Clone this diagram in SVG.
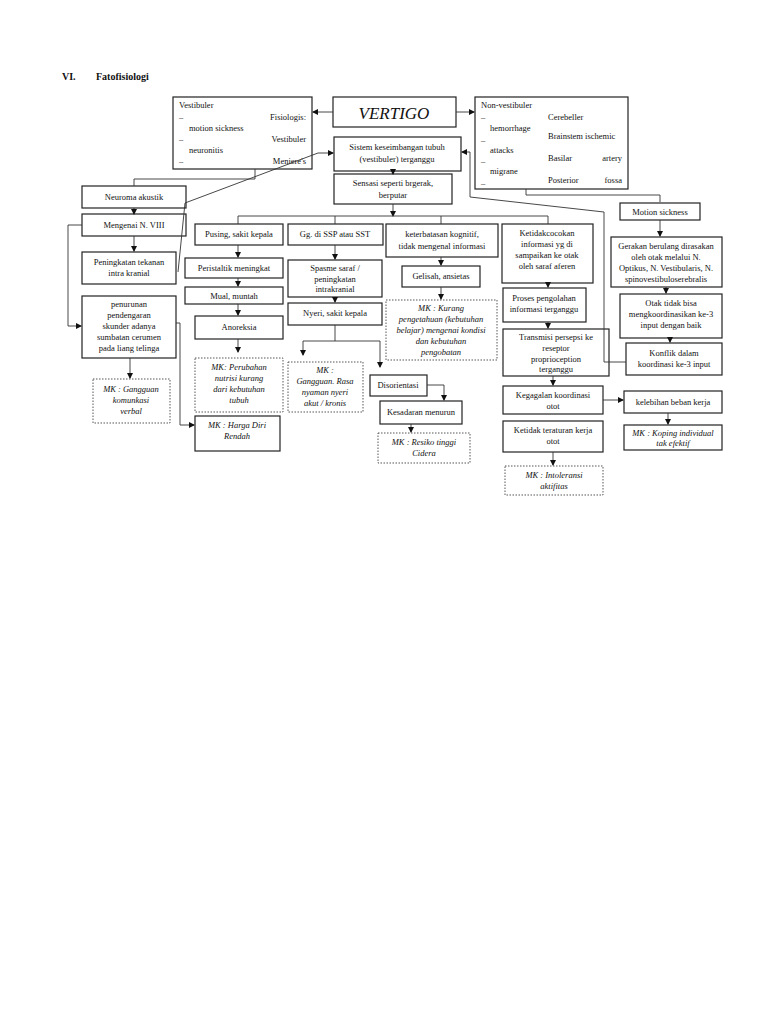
<svg xmlns="http://www.w3.org/2000/svg" width="768" height="1024" viewBox="0 0 768 1024">
<style>
text{font-family:"Liberation Serif","Times New Roman",serif;font-size:8.5px;fill:#111}
.b rect{fill:#fff;stroke:#222;stroke-width:1.2}
.d rect{fill:#fff;stroke:#444;stroke-width:0.9;stroke-dasharray:1.5,1.5}
.d text{font-style:italic}
.c{fill:none;stroke:#333;stroke-width:0.9}
.m{text-anchor:middle}
</style>
<defs><marker id="a" markerWidth="6" markerHeight="6" refX="5" refY="3" orient="auto" markerUnits="userSpaceOnUse"><path d="M0,0L6,3L0,6z" fill="#111"/></marker></defs>
<rect width="768" height="1024" fill="#fff"/>
<text x="62" y="80" style="font-weight:bold;font-size:10px">VI.</text>
<text x="96" y="80" style="font-weight:bold;font-size:10px">Fatofisiologi</text>

<g id="vestibuler" class="b"><rect x="173" y="97" width="139" height="72"/>
<text x="179" y="108">Vestibuler</text><text x="179" y="120">–</text><text x="306" y="120" text-anchor="end">Fisiologis:</text><text x="189" y="131">motion sickness</text><text x="179" y="142">–</text><text x="306" y="142" text-anchor="end">Vestibuler</text><text x="189" y="153">neuronitis</text><text x="179" y="164">–</text><text x="306" y="164" text-anchor="end">Meniere's</text></g>
<g id="vertigo" class="b"><rect x="333" y="97" width="123" height="30"/><text x="394" y="119" class="m" style="font-size:17px;font-style:italic">VERTIGO</text></g>
<g id="nonvest" class="b"><rect x="475" y="97" width="153" height="92"/>
<text x="481" y="108">Non-vestibuler</text><text x="481" y="120">–</text><text x="548" y="120">Cerebeller</text><text x="490" y="131">hemorrhage</text><text x="481" y="143">–</text><text x="548" y="139">Brainstem  ischemic</text><text x="490" y="153">attacks</text><text x="481" y="164">–</text><text x="548" y="161">Basilar</text><text x="622" y="161" text-anchor="end">artery</text><text x="490" y="174">migrane</text><text x="481" y="186">–</text><text x="548" y="183">Posterior</text><text x="622" y="183" text-anchor="end">fossa</text></g>
<g id="sistem" class="b"><rect x="334" y="137" width="127" height="34"/><text x="397" y="150" class="m">Sistem keseimbangan tubuh</text><text x="397" y="162" class="m">(vestibuler) terganggu</text></g>
<g id="sensasi" class="b"><rect x="334" y="174" width="118" height="30"/><text x="393" y="186" class="m">Sensasi seperti brgerak,</text><text x="393" y="198" class="m">berputar</text></g>
<g id="neuroma" class="b"><rect x="82" y="186" width="104" height="22"/><text x="134" y="200" class="m">Neuroma akustik</text></g>
<g id="mengenai" class="b"><rect x="82" y="214" width="104" height="22"/><text x="134" y="228" class="m">Mengenai N. VIII</text></g>
<g id="peningkatan" class="b"><rect x="82" y="252" width="94" height="32"/><text x="129" y="265" class="m">Peningkatan tekanan</text><text x="129" y="276" class="m">intra kranial</text></g>
<g id="penurunan" class="b"><rect x="82" y="296" width="94" height="62"/><text x="129" y="307" class="m">penurunan</text><text x="129" y="318" class="m">pendengaran</text><text x="129" y="329" class="m">skunder adanya</text><text x="129" y="340" class="m">sumbatan cerumen</text><text x="129" y="351" class="m">pada liang telinga</text></g>
<g id="mk-komunikasi" class="d"><rect x="93" y="379" width="77" height="44"/><text x="131" y="392" class="m">MK : Gangguan</text><text x="131" y="403" class="m">komunkasi</text><text x="131" y="414" class="m">verbal</text></g>
<g id="pusing" class="b"><rect x="195" y="224" width="88" height="21"/><text x="239" y="237" class="m">Pusing, sakit kepala</text></g>
<g id="gg" class="b"><rect x="288" y="224" width="95" height="21"/><text x="335" y="237" class="m">Gg. di SSP atau SST</text></g>
<g id="keterbatasan" class="b"><rect x="386" y="224" width="112" height="33"/><text x="442" y="237" class="m">keterbatasan kognitif,</text><text x="442" y="249" class="m">tidak mengenal informasi</text></g>
<g id="ketidakcocokan" class="b"><rect x="502" y="224" width="91" height="59"/><text x="547" y="236" class="m">Ketidakcocokan</text><text x="547" y="247" class="m">informasi yg di</text><text x="547" y="258" class="m">sampaikan ke otak</text><text x="547" y="269" class="m">oleh saraf aferen</text></g>
<g id="peristaltik" class="b"><rect x="185" y="258" width="98" height="20"/><text x="234" y="271" class="m">Peristaltik meningkat</text></g>
<g id="mual" class="b"><rect x="185" y="287" width="98" height="17"/><text x="234" y="299" class="m">Mual, muntah</text></g>
<g id="anoreksia" class="b"><rect x="195" y="316" width="88" height="23"/><text x="239" y="330" class="m">Anoreksia</text></g>
<g id="mk-nutrisi" class="d"><rect x="195" y="358" width="88" height="54"/><text x="239" y="370" class="m">MK: Perubahan</text><text x="239" y="381" class="m">nutrisi kurang</text><text x="239" y="392" class="m">dari kebutuhan</text><text x="239" y="403" class="m">tubuh</text></g>
<g id="mk-harga" class="b"><rect x="195" y="416" width="85" height="35"/><text x="237" y="428" class="m" style="font-style:italic">MK : Harga Diri</text><text x="237" y="439" class="m" style="font-style:italic">Rendah</text></g>
<g id="spasme" class="b"><rect x="288" y="260" width="94" height="37"/><text x="335" y="271" class="m">Spasme saraf /</text><text x="335" y="282" class="m">peningkatan</text><text x="335" y="292" class="m">intrakranial</text></g>
<g id="nyeri" class="b"><rect x="288" y="303" width="94" height="22"/><text x="335" y="316" class="m">Nyeri, sakit kepala</text></g>
<g id="mk-nyeri" class="d"><rect x="288" y="362" width="75" height="50"/><text x="325" y="373" class="m">MK :</text><text x="325" y="384" class="m">Gangguan. Rasa</text><text x="325" y="395" class="m">nyaman nyeri</text><text x="325" y="406" class="m">akut / kronis</text></g>
<g id="gelisah" class="b"><rect x="402" y="266" width="78" height="21"/><text x="441" y="279" class="m">Gelisah, ansietas</text></g>
<g id="mk-pengetahuan" class="d"><rect x="386" y="300" width="111" height="60"/><text x="441" y="311" class="m">MK : Kurang</text><text x="441" y="322" class="m">pengetahuan (kebutuhan</text><text x="441" y="333" class="m">belajar) mengenai kondisi</text><text x="441" y="344" class="m">dan kebutuhan</text><text x="441" y="355" class="m">pengobatan</text></g>
<g id="disorientasi" class="b"><rect x="370" y="375" width="57" height="21"/><text x="398" y="388" class="m">Disorientasi</text></g>
<g id="kesadaran" class="b"><rect x="380" y="401" width="82" height="23"/><text x="421" y="415" class="m">Kesadaran menurun</text></g>
<g id="mk-resiko" class="d"><rect x="378" y="433" width="92" height="30"/><text x="424" y="445" class="m">MK : Resiko tinggi</text><text x="424" y="456" class="m">Cidera</text></g>
<g id="proses" class="b"><rect x="503" y="288" width="83" height="34"/><text x="544" y="301" class="m">Proses pengolahan</text><text x="544" y="312" class="m">informasi terganggu</text></g>
<g id="transmisi" class="b"><rect x="503" y="329" width="106" height="47"/><text x="556" y="340" class="m">Transmisi persepsi ke</text><text x="556" y="351" class="m">reseptor</text><text x="556" y="362" class="m">proprioception</text><text x="556" y="372" class="m">terganggu</text></g>
<g id="kegagalan" class="b"><rect x="503" y="386" width="100" height="28"/><text x="553" y="398" class="m">Kegagalan koordinasi</text><text x="553" y="409" class="m">otot</text></g>
<g id="ketidakteraturan" class="b"><rect x="503" y="421" width="100" height="31"/><text x="553" y="433" class="m">Ketidak teraturan kerja</text><text x="553" y="444" class="m">otot</text></g>
<g id="mk-intoleransi" class="d"><rect x="505" y="466" width="98" height="29"/><text x="554" y="478" class="m">MK : Intoleransi</text><text x="554" y="489" class="m">aktifitas</text></g>
<g id="motion" class="b"><rect x="620" y="203" width="80" height="17"/><text x="660" y="215" class="m">Motion sickness</text></g>
<g id="gerakan" class="b"><rect x="611" y="237" width="111" height="50"/><text x="666" y="249" class="m">Gerakan berulang dirasakan</text><text x="666" y="260" class="m">oleh otak melalui N.</text><text x="666" y="271" class="m">Optikus, N. Vestibularis, N.</text><text x="666" y="282" class="m">spinovestibuloserebralis</text></g>
<g id="otak" class="b"><rect x="620" y="294" width="102" height="44"/><text x="671" y="306" class="m">Otak tidak bisa</text><text x="671" y="317" class="m">mengkoordinasikan ke-3</text><text x="671" y="328" class="m">input dengan baik</text></g>
<g id="konflik" class="b"><rect x="626" y="343" width="96" height="32"/><text x="674" y="356" class="m">Konflik dalam</text><text x="674" y="367" class="m">koordinasi ke-3 input</text></g>
<g id="kelebihan" class="b"><rect x="624" y="391" width="98" height="22"/><text x="673" y="405" class="m">kelebihan beban kerja</text></g>
<g id="mk-koping" class="b"><rect x="624" y="425" width="98" height="25"/><text x="673" y="436" class="m" style="font-style:italic">MK : Koping individual</text><text x="673" y="446" class="m" style="font-style:italic">tak efektif</text></g>

<g id="connectors" class="c">
<path d="M333,112H313" marker-end="url(#a)"/>
<path d="M456,112H474" marker-end="url(#a)"/>
<path d="M393,171V174" marker-end="url(#a)"/>
<path d="M393,204V216" marker-end="url(#a)"/>
<path d="M238,224V216H548V224M335,216V224M441,216V224"/>
<path d="M255,169V179H134V186"/>
<path d="M134,208V214" marker-end="url(#a)"/>
<path d="M134,236V251" marker-end="url(#a)"/>
<path d="M82,225H68V326H81" marker-end="url(#a)"/>
<path d="M178,272L185,203L318,153H333" marker-end="url(#a)"/>
<path d="M526,189V195H660V202" />
<path d="M660,220V236" marker-end="url(#a)"/>
<path d="M666,287V293" marker-end="url(#a)"/>
<path d="M670,338V342" marker-end="url(#a)"/>
<path d="M626,362H604V212L470,197V152H462" marker-end="url(#a)"/>
<path d="M238,245V257" marker-end="url(#a)"/>
<path d="M238,278V286" marker-end="url(#a)"/>
<path d="M238,304V315" marker-end="url(#a)"/>
<path d="M238,339V352" marker-end="url(#a)"/>
<path d="M176,323H180V425H194" marker-end="url(#a)"/>
<path d="M130,358V378" marker-end="url(#a)"/>
<path d="M335,245V259" marker-end="url(#a)"/>
<path d="M335,297V302" marker-end="url(#a)"/>
<path d="M335,325V341M303,341H380" />
<path d="M303,341V355" marker-end="url(#a)"/>
<path d="M380,341V367" marker-end="url(#a)"/>
<path d="M441,257V265" marker-end="url(#a)"/>
<path d="M441,287V299" marker-end="url(#a)"/>
<path d="M427,385H444V400" marker-end="url(#a)"/>
<path d="M411,424V432" marker-end="url(#a)"/>
<path d="M548,283V287" marker-end="url(#a)"/>
<path d="M548,322V328" marker-end="url(#a)"/>
<path d="M553,376V385" marker-end="url(#a)"/>
<path d="M603,400H623" marker-end="url(#a)"/>
<path d="M553,452V465" marker-end="url(#a)"/>
<path d="M668,413V424" marker-end="url(#a)"/>
</g>
</svg>
